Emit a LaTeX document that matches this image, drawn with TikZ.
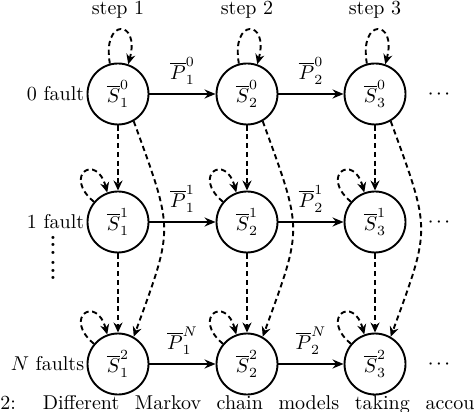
\documentclass[tikz,border=0pt]{standalone}
\usetikzlibrary{arrows.meta}
\begin{document}
\begin{tikzpicture}[x=0.5pt,y=0.5pt,
  stnode/.style={circle,draw,line width=0.95pt,minimum size=30.5pt,inner sep=0pt},
  solidarr/.style={line width=0.9pt,-{Stealth[length=5.5pt,width=4.5pt]}},
  dasharr/.style={line width=0.95pt,dash pattern=on 2.6pt off 1.8pt,-{Stealth[length=5pt,width=4.5pt]}},
  rowlab/.style={anchor=east,inner sep=1pt},
  steplab/.style={anchor=base,inner sep=0pt},
  dotlab/.style={inner sep=0pt,font=\boldmath\scriptsize}]
\useasboundingbox (0,0) rectangle (474,411);
% states
\node[stnode] (s10) at (118,317) {$\overline{S}^{0}_{1}$};
\node[stnode] (s20) at (247,317) {$\overline{S}^{0}_{2}$};
\node[stnode] (s30) at (375,317) {$\overline{S}^{0}_{3}$};
\node[stnode] (s11) at (118,189) {$\overline{S}^{1}_{1}$};
\node[stnode] (s21) at (247,189) {$\overline{S}^{1}_{2}$};
\node[stnode] (s31) at (375,189) {$\overline{S}^{1}_{3}$};
\node[stnode] (s12) at (118,47) {$\overline{S}^{2}_{1}$};
\node[stnode] (s22) at (247,47) {$\overline{S}^{2}_{2}$};
\node[stnode] (s32) at (375,47) {$\overline{S}^{2}_{3}$};
% labels
\node[steplab] (st1) at (118,396) {step 1};
\node[steplab] (st2) at (247,396) {step 2};
\node[steplab] (st3) at (375,396) {step 3};
\node[rowlab] (f0) at (s10.west) {0 fault};
\node[rowlab] (f1) at (s11.west) {1 fault};
\node[rowlab] (fn) at (s12.west) {$N$ faults};
\node[inner sep=0pt] (vd) at (53,153) {\bfseries\vbox{\baselineskip=3.85pt\lineskiplimit=-10pt\hbox{.}\hbox{.}\hbox{.}\vskip1.1pt\hbox{.}\hbox{.}\hbox{.}}};
\node[dotlab] (d0) at (439,317) {$\cdots$};
\node[dotlab] (d1) at (439,189) {$\cdots$};
\node[dotlab] (d2) at (439,47) {$\cdots$};
\node[anchor=base west,inner sep=0pt] (cap) at (0,1.5) {\makebox[237pt][s]{2: Different Markov chain models taking accou}};
% horizontal transitions
\draw[solidarr] (s10) -- node[above=1pt] {$\overline{P}^{0}_{1}$} (s20);
\draw[solidarr] (s20) -- node[above=1pt] {$\overline{P}^{0}_{2}$} (s30);
\draw[solidarr] (s11) -- node[above=1pt] {$\overline{P}^{1}_{1}$} (s21);
\draw[solidarr] (s21) -- node[above=1pt] {$\overline{P}^{1}_{2}$} (s31);
\draw[solidarr] (s12) -- node[above=1pt] {$\overline{P}^{N}_{1}$} (s22);
\draw[solidarr] (s22) -- node[above=1pt] {$\overline{P}^{N}_{2}$} (s32);
% self loops
\foreach \n in {s10,s20,s30}
  \draw[dasharr] (\n.105) to[out=100,in=75,looseness=6.5] (\n.71);
\foreach \n in {s11,s21,s31,s12,s22,s32}
  \draw[dasharr] (\n.140) to[out=140,in=105,looseness=6.5] (\n.110);
% vertical transitions
\foreach \c in {1,2,3}{
  \draw[dasharr] (s\c0) -- (s\c1);
  \draw[dasharr] (s\c1) -- (s\c2);
  \draw[dasharr] (s\c0.-60) to[out=-70,in=70,looseness=1.4] (s\c2.60);
}
\end{tikzpicture}
\end{document}
